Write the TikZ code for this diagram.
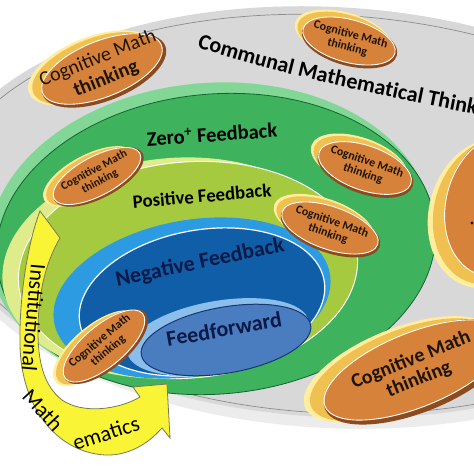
\documentclass[tikz,border=0pt]{standalone}
\usepackage{fontspec}
\setmainfont{Carlito}
\usetikzlibrary{decorations.text}
\definecolor{grayA}{RGB}{216,216,216}
\definecolor{grayS}{RGB}{236,236,236}
\definecolor{grayLine}{RGB}{140,140,140}
\definecolor{greenL}{RGB}{130,215,150}
\definecolor{greenZ}{RGB}{62,178,92}
\definecolor{greenD}{RGB}{20,100,50}
\definecolor{limeP}{RGB}{222,236,140}
\definecolor{limeM}{RGB}{165,202,64}
\definecolor{blueL}{RGB}{45,155,225}
\definecolor{blueD}{RGB}{16,94,168}
\definecolor{ffL}{RGB}{140,190,235}
\definecolor{ffM}{RGB}{74,124,192}
\definecolor{ffD}{RGB}{25,55,115}
\definecolor{goldB}{RGB}{240,192,80}
\definecolor{goldE}{RGB}{255,238,160}
\definecolor{orangeC}{RGB}{214,130,58}
\definecolor{brownD}{RGB}{140,75,30}
\definecolor{yellowA}{RGB}{250,244,55}
\definecolor{arrowE}{RGB}{120,120,90}
\definecolor{navyT}{RGB}{10,25,70}
\definecolor{cogT}{RGB}{30,20,10}
\tikzset{
  lbl/.style={inner sep=0pt, text=black},
  cogtxt/.style={inner sep=0pt, align=center, text=cogT},
}
\newcommand{\cogdisc}[5]{%
  \begin{scope}[shift={(#1,#2)},rotate=#3]
    \fill[goldE] (-0.15*#4,-0.17*#5) ellipse [x radius=1.01*#4, y radius=1.01*#5];
    \fill[goldB] (-0.12*#4,-0.13*#5) ellipse [x radius=0.98*#4, y radius=0.97*#5];
    \fill[brownD] (0.02*#4,0.07*#5) ellipse [x radius=#4, y radius=#5];
    \filldraw[fill=orangeC, draw=white, line width=0.9] (0,0) ellipse [x radius=0.97*#4, y radius=0.93*#5];
  \end{scope}}
\newcommand{\cogm}[9]{%
  \cogdisc{#2}{#3}{#4}{#5}{#6}
  \node[cogtxt, rotate=#4, font=\bfseries\fontsize{#7}{#8}\selectfont] (#1) at (#2,#3) {#9};}
\begin{document}
\begin{tikzpicture}[x=1pt,y=-1pt]
\useasboundingbox (0,0) rectangle (474,474);
\begin{scope}
\clip (0,0) rectangle (474,474);
\fill[white] (0,0) rectangle (474,474);
% communal area
\fill[grayS, rotate around={-3:(332,218)}] (332,218) ellipse [x radius=396, y radius=210];
\fill[grayA, rotate around={-3:(330,212)}] (330,212) ellipse [x radius=392, y radius=205];
\draw[grayLine, line width=0.7, rotate around={-3:(330,214)}] (330,214) ellipse [x radius=385, y radius=199];
% zero+ feedback
\fill[greenL, rotate around={5:(210,238)}] (210,238) ellipse [x radius=222, y radius=155];
\filldraw[fill=greenZ, draw=greenD, line width=0.8, rotate around={5:(216,244)}] (216,244) ellipse [x radius=220, y radius=150];
% positive feedback
\fill[limeP, rotate around={5:(174,268)}] (174,268) ellipse [x radius=172, y radius=110];
\filldraw[fill=limeM, draw=white, line width=1, rotate around={5:(188,270)}] (188,270) ellipse [x radius=170, y radius=108];
% negative feedback
\fill[blueL, rotate around={10:(192,298)}] (192,298) ellipse [x radius=140, y radius=78];
\filldraw[fill=blueD, draw=white, line width=1.2, rotate around={10:(202,302)}] (202,302) ellipse [x radius=124, y radius=72];
% feedforward
\fill[ffL, rotate around={10:(218,337)}] (218,337) ellipse [x radius=92, y radius=36];
\filldraw[fill=ffM, draw=ffD, line width=1, rotate around={10:(226,340)}] (226,340) ellipse [x radius=86, y radius=33];
% institutional mathematics arrow
\filldraw[fill=yellowA, draw=arrowE, line width=0.8]
  (40,211) .. controls (27,245) and (19,300) .. (20,345)
  .. controls (21,405) and (55,452) .. (105,455)
  .. controls (128,456) and (148,444) .. (162,428)
  -- (170,438) -- (167,384) -- (133,387) -- (140,397)
  .. controls (118,410) and (82,414) .. (62,400)
  .. controls (44,386) and (38,362) .. (38,332)
  .. controls (38,292) and (46,262) .. (60,238)
  -- cycle;
% cognitive math thinking discs
\cogm{cogA}{102}{69}{22}{66}{30}{20}{22}{{\mdseries Cognitive Math}\\thinking}
\cogm{cogB}{349}{41}{-15}{49}{23}{12}{13}{Cognitive Math\\thinking}
\cogm{cogC}{365}{168}{-19}{50}{24}{12}{13}{Cognitive Math\\thinking}
\cogm{cogD}{97}{176}{28}{50}{21}{11.5}{12.5}{Cognitive Math\\thinking}
\cogm{cogE}{330}{228}{-19}{52}{23}{12}{13}{Cognitive Math\\thinking}
\cogm{cogF}{104}{346}{40}{52}{22}{12}{13}{Cognitive Math\\thinking}
\cogm{cogG}{415}{370}{22}{100}{40}{20}{21}{Cognitive Math\\thinking}
\cogdisc{500}{205}{75}{75}{58}
\fill[cogT] (472,223) circle (1.6);
% labels
\path[decorate, decoration={text along path, text format delimiters={|}{|},
  text={|\bfseries\fontsize{22}{22}\selectfont|Communal Mathematical Thinking}}]
  (197,47) .. controls (280,76) and (420,105) .. (560,130);
\node[lbl, rotate=4, font=\bfseries\fontsize{20.5}{20.5}\selectfont] (zero) at (212,134) {Zero\textsuperscript{+} Feedback};
\node[lbl, rotate=5, font=\bfseries\fontsize{18.8}{18.8}\selectfont] (pos) at (202,196) {Positive Feedback};
\node[lbl, rotate=12, text=navyT, font=\bfseries\fontsize{22}{22}\selectfont] (neg) at (200,263) {Negative Feedback};
\node[lbl, rotate=10, text=navyT, font=\bfseries\fontsize{22}{22}\selectfont] (ff) at (224,329) {Feedforward};
\node[lbl, rotate=-95, font=\fontsize{22}{22}\selectfont] (inst) at (34,318) {Institutional};
\node[lbl, rotate=-47, font=\fontsize{22}{22}\selectfont] (math) at (43,410) {Math};
\node[lbl, rotate=18, font=\fontsize{22}{22}\selectfont] (emat) at (106,433) {ematics};
\end{scope}
\end{tikzpicture}
\end{document}
